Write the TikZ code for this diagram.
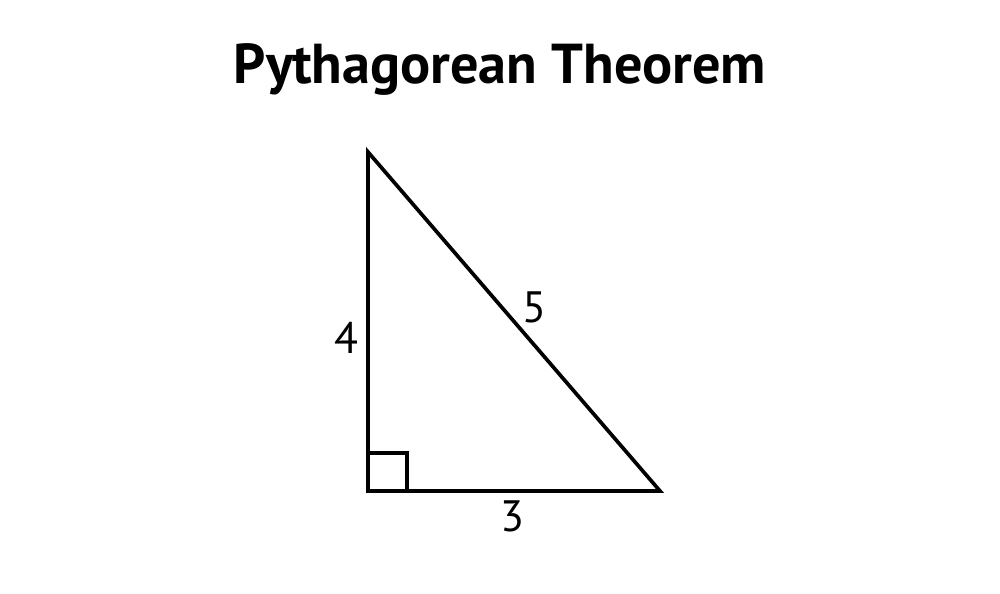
\documentclass[tikz,border=0pt]{standalone}
\usepackage{fontspec}
\setmainfont{PT Sans}
\begin{document}
\begin{tikzpicture}[x=0.02cm,y=-0.02cm,
    side/.style={line width=2.1pt,line join=miter},
    len/.style={font=\fontsize{25}{25}\selectfont}]
      \useasboundingbox (0,0) rectangle (1000,594);
      \node[font=\fontsize{32}{32}\selectfont\bfseries] (title) at (500,70) {Pythagorean Theorem};
      \draw
        (368,152) coordinate (A)
        (368,491) coordinate (B)
        (660,491) coordinate (C);
      \draw[side] (A) -- (B) -- (C) -- cycle;
      \draw[side] (368,453) -- (407,453) -- (407,491);
      \node[len] (a) at (346,338) {4};
      \node[len] (c) at (534,307) {5};
      \node[len] (b) at (512,516) {3};
    \end{tikzpicture}
\end{document}
